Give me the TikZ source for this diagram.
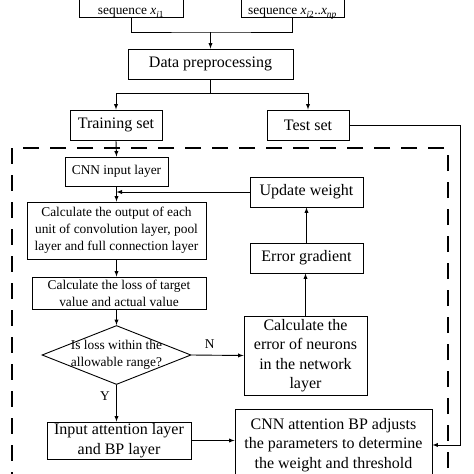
\documentclass[tikz,border=0pt]{standalone}
\usepackage{fontspec}
\setmainfont{Liberation Serif}
\usepackage{tikz}
\usetikzlibrary{shapes.geometric}

\newcommand{\bigtxt}{\fontsize{16}{19.5}\selectfont}
\newcommand{\smalltxt}{\fontsize{13.4}{16.8}\selectfont}
\newcommand{\seqtxt}{\fontsize{13.4}{15}\selectfont}

\begin{document}
\begin{tikzpicture}[x=1pt, y=-1pt, line width=0.9pt,
			box/.style={shape=rectangle, draw, align=center, inner sep=0pt,
				font=\bigtxt},
			smallbox/.style={box, font=\smalltxt},
			decision/.style={shape=diamond, draw, inner sep=0pt,
				minimum width=149pt, minimum height=59pt}
			]
			\useasboundingbox (0,0) rectangle (474,474);
			
			% Input sequences (cut at the top)
			\node[box, minimum width=104pt, minimum height=42pt,
				label={[font=\seqtxt, anchor=base, yshift=2.5pt, inner sep=0pt]south:sequence \textit{x}\textsubscript{\textit{i}1}}]
				(seqa) at (131,-4) {};
			\node[box, minimum width=103pt, minimum height=42pt,
				label={[font=\seqtxt, anchor=base, yshift=2.5pt, inner sep=0pt]south:sequence \textit{x}\textsubscript{\textit{i}2}..\textit{x}\textsubscript{\textit{np}}}]
				(seqb) at (292.5,-4) {};
			
			\node[box, minimum width=165pt, minimum height=30pt] (prep) at (210.5,64) {Data preprocessing};
			\node[box, minimum width=92pt, minimum height=30pt] (train) at (116,125) {Training set};
			\node[box, minimum width=82pt, minimum height=30pt] (test) at (308,125) {Test set};
			
			% Network part inside the dashed frame
			\draw[dash pattern=on 16pt off 11pt, line width=1.2pt] (12,148) rectangle (448,495);
			\node[smallbox, minimum width=103pt, minimum height=29pt] (cnnin) at (116.5,171.5) {CNN input layer};
			\node[smallbox, minimum width=179pt, minimum height=57pt] (calcout) at (116.5,230.5)
				{Calculate the output of each\\unit of convolution layer, pool\\layer and full connection layer};
			\node[smallbox, minimum width=174pt, minimum height=32pt] (loss) at (119,293)
				{Calculate the loss of target\\value and actual value};
			\node[decision, label={[font=\smalltxt, align=center]center:Is loss within the\\allowable range?}]
				(check) at (116.5,355) {};
			\node[box, minimum width=144pt, minimum height=37pt] (attin) at (119,440.5)
				{Input attention layer\\and BP layer};
			
			\node[box, minimum width=113pt, minimum height=30pt] (update) at (306.5,192) {Update weight};
			\node[box, minimum width=113pt, minimum height=30pt] (grad) at (306.5,258) {Error gradient};
			\node[box, minimum width=123pt, minimum height=79pt] (nerr) at (305.5,355.5)
				{Calculate the\\error of neurons\\in the network\\layer};
			\node[box, minimum width=197pt, minimum height=72pt] (adjust) at (333.5,445)
				{CNN attention BP adjusts\\the parameters to determine\\the weight and threshold};
			
			% Connectors
			\coordinate (merge) at (210.5,32);
			\coordinate (split) at (210.5,93);
			\coordinate (testturn) at (460,125);
			\draw (seqa.south) |- (merge) -| (seqb.south);
			\draw[-latex] (merge) -- (prep.north);
			\draw (prep.south) -- (split);
			\draw[-latex] (split) -| (train.north);
			\draw[-latex] (split) -| (test.north);
			\draw[-latex] (train.south) -- (cnnin.north);
			\draw[-latex] (cnnin.south) -- (calcout.north);
			\draw[-latex] (update.west) -- (cnnin.south |- update.west);
			\draw[-latex] (calcout.south) -- (calcout.south |- loss.north);
			\draw[-latex] (calcout.south |- loss.south) -- (check.north);
			\draw[-latex] (check.east) -- node[pos=0.35, above=3pt, font=\smalltxt] {N} (nerr.west);
			\draw[-latex] (check.south) -- node[pos=0.3, left=3pt, font=\smalltxt] {Y} (check.south |- attin.north);
			\draw[-latex] (nerr.north) -- (nerr.north |- grad.south);
			\draw[-latex] (grad.north) -- (update.south);
			\draw[-latex] (attin.east) -- (attin.east -| adjust.west);
			\draw[-latex] (test.east) -- (testturn) |- (adjust.east);
			
		\end{tikzpicture}
\end{document}
